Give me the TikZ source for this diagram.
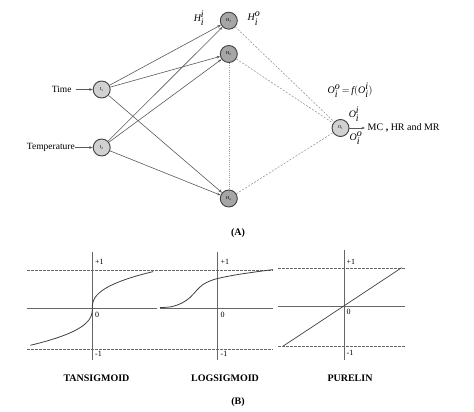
\documentclass[tikz,border=0pt]{standalone}
\usepackage{fontspec}
\setmainfont{Liberation Serif}
\usetikzlibrary{arrows.meta}
\begin{document}
\begin{tikzpicture}[x=1pt,y=-1pt,
 neuron/.style={circle,draw=black!75,line width=0.9pt,minimum size=17pt,inner sep=0pt,font=\fontsize{4.5}{5}\selectfont},
 hid/.style={neuron,fill=black!35},
 inp/.style={neuron,fill=black!18},
 link/.style={draw=black!65,line width=0.6pt,-{Stealth[length=3.5pt,width=2.6pt]}},
 dlink/.style={draw=black!45,line width=0.5pt,dash pattern=on 2pt off 1.5pt},
 dotlink/.style={draw=black!40,line width=0.45pt,dash pattern=on 0.8pt off 1.4pt},
 lbl/.style={font=\fontsize{9.5}{10}\selectfont,inner sep=0pt},
 mlbl/.style={font=\fontsize{10}{11}\selectfont,inner sep=0pt},
 axis/.style={draw=black!60,line width=0.8pt},
 lev/.style={draw=black!60,line width=0.6pt,dash pattern=on 2.5pt off 1.5pt},
 curve/.style={draw=black!75,line width=0.8pt},
 ttl/.style={font=\bfseries\fontsize{10}{12}\selectfont,inner sep=0pt},
 tick/.style={font=\fontsize{8}{9}\selectfont,inner sep=0pt,anchor=west}
]
\useasboundingbox (0,0) rectangle (474,412);
% ---------- panel A ----------
\node[inp] (I1) at (101.7,89.5) {I\textsubscript{1}};
\node[inp] (I2) at (101.7,147.5) {I\textsubscript{2}};
\node[hid] (H1) at (228.8,20.7) {H\textsubscript{1}};
\node[hid] (H2) at (228.8,54) {H\textsubscript{2}};
\node[hid] (Hn) at (228.8,198.5) {H\textsubscript{n}};
\node[inp] (O1) at (340.5,128) {O\textsubscript{1}};

\node[lbl,anchor=east] (time) at (71.7,89.5) {Time};
\node[lbl,anchor=east] (temp) at (75,147.5) {Temperature};
\draw[link] ([xshift=4pt]time.east) -- (I1);
\draw[link] (temp.east) -- (I2);

\foreach \a in {I1,I2}{
  \foreach \b in {H1,H2,Hn}{
    \draw[link] (\a) -- (\b);
  }
}
\draw[dotlink] (H2) -- (Hn);
\foreach \b in {H1,H2,Hn}{
  \draw[dlink] (\b) -- (O1);
}

\node[mlbl] (hii) at (199,18.5) {$\textit{H}^{\textit{i}}_{\textit{i}}$};
\node[mlbl] (hio) at (254,18.5) {$\textit{H}^{\textit{o}}_{\textit{i}}$};
\node[mlbl] (fo) at (350,90) {$\textit{O}^{\textit{o}}_{\textit{i}}\mkern-2mu=\mkern-2mu\textit{f}(\textit{O}^{\textit{i}}_{\textit{i}})$};
\node[mlbl] (oii) at (354,114) {$\textit{O}^{\textit{i}}_{\textit{i}}$};
\node[mlbl] (oio) at (356,138) {$\textit{O}^{\textit{o}}_{\textit{i}}$};
\coordinate (out) at (365,128);
\draw[link] (O1) -- (out);
\node[font=\fontsize{10}{12}\selectfont,inner sep=0pt,anchor=west] (res) at (367.5,127.5) {MC \textbf{,} HR and MR};
\node[ttl] (A) at (238,233) {(A)};

% ---------- panel B ----------
% tansigmoid
\draw[lev] (27,270) -- (160,270);
\draw[lev] (27,349) -- (160,349);
\draw[axis] (27,308.3) -- (157,308.3);
\draw[axis] (92.3,252) -- (92.3,360);
\draw[curve] plot[domain=-1:0.992,samples=120,smooth]
  ({92.3+62*\x*abs(\x)*sqrt(abs(\x))},{308.3-37*\x});
\node[tick] (t1p) at (95,262) {+1};
\node[tick] (t10) at (95,315) {0};
\node[tick] (t1m) at (95,354) {-1};
\node[ttl] (tn) at (96.5,378) {TANSIGMOID};
% logsigmoid
\draw[lev] (160,270) -- (273,270);
\draw[lev] (160,349.3) -- (273,349.3);
\draw[axis] (160,308.3) -- (273,308.3);
\draw[axis] (217.7,252) -- (217.7,360);
\draw[curve] plot[smooth,tension=0.6] coordinates {(160,307.6) (172,306.6) (182,303) (190,297.5) (197,290) (203,284.5) (210,281) (217.7,278.5) (235,275) (255,272) (273,269.6)};
\node[tick] (l1p) at (220.5,262) {+1};
\node[tick] (l10) at (220.5,315) {0};
\node[tick] (l1m) at (220.5,354) {-1};
\node[ttl] (ln) at (225,378) {LOGSIGMOID};
% purelin
\draw[lev] (278,268.3) -- (405,268.3);
\draw[lev] (278,346) -- (405,346);
\draw[axis] (278,306.7) -- (405,306.7);
\draw[axis] (344.3,250) -- (344.3,360);
\draw[curve,line width=0.7pt] (283.3,346) -- (401.7,267.7);
\node[tick] (p1p) at (346.5,262) {+1};
\node[tick] (p10) at (346.5,312) {0};
\node[tick] (p1m) at (346.5,353) {-1};
\node[ttl] (pn) at (350,378) {PURELIN};
\node[ttl] (B) at (238,402) {(B)};
\end{tikzpicture}
\end{document}
